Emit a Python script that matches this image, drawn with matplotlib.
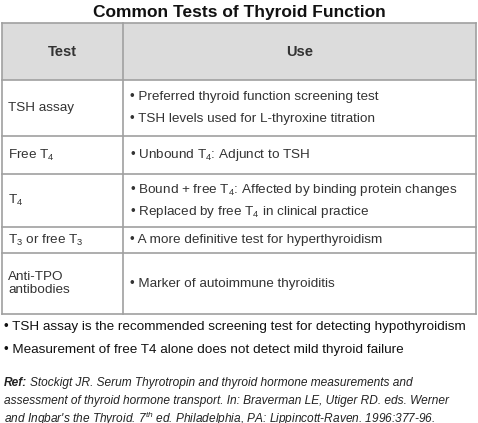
import matplotlib.pyplot as plt
from matplotlib.patches import Rectangle

plt.rcParams["font.family"] = ["Liberation Sans", "DejaVu Sans"]
plt.rcParams["mathtext.fontset"] = "custom"
plt.rcParams["mathtext.rm"] = "Liberation Sans"
plt.rcParams["mathtext.it"] = "Liberation Sans:italic"

S4 = r"$_\mathregular{4}$"
S3 = r"$_\mathregular{3}$"

title = "Common Tests of Thyroid Function"
headers = ["Test", "Use"]
tests = ["TSH assay", "Free T" + S4, "T" + S4, "T" + S3 + " or free T" + S3, "Anti-TPO\nantibodies"]
uses = [
    ["Preferred thyroid function screening test", "TSH levels used for L-thyroxine titration"],
    ["Unbound T" + S4 + ": Adjunct to TSH"],
    ["Bound + free T" + S4 + ": Affected by binding protein changes",
     "Replaced by free T" + S4 + " in clinical practice"],
    ["A more definitive test for hyperthyroidism"],
    ["Marker of autoimmune thyroiditis"],
]
notes = [
    "TSH assay is the recommended screening test for detecting hypothyroidism",
    "Measurement of free T4 alone does not detect mild thyroid failure",
]
ref_lines = [
    "Stockigt JR. Serum Thyrotropin and thyroid hormone measurements and",
    "assessment of thyroid hormone transport. In: Braverman LE, Utiger RD. eds. Werner",
    r"and Ingbar's the Thyroid. 7$^\mathregular{th}$ ed. Philadelphia, PA: Lippincott-Raven. 1996:377-96.",
]

# layout in pixels
row_edges = [23, 80, 136, 174, 227, 253, 314]
x0, xs, x1 = 2, 123, 476
txt = "#333333"
line = "#a0a0a0"
fs = 9.7

fig = plt.figure(figsize=(4.78, 4.23), dpi=100)
ax = fig.add_axes([0, 0, 1, 1])
ax.set_xlim(0, 478)
ax.set_ylim(423, 0)
ax.axis("off")

ax.text(239, 12, title, ha="center", va="center", fontsize=12.5, fontweight="bold", color="#111111")

ax.add_patch(Rectangle((x0, row_edges[0]), x1 - x0, row_edges[1] - row_edges[0],
                       facecolor="#dcdcdc", edgecolor="none"))
for y in row_edges:
    ax.plot([x0, x1], [y, y], color=line, lw=1.2)
for x in [x0, xs, x1]:
    ax.plot([x, x], [row_edges[0], row_edges[-1]], color=line, lw=1.2)

ymid = (row_edges[0] + row_edges[1]) / 2
ax.text((x0 + xs) / 2, ymid, headers[0], ha="center", va="center", fontsize=10.5, fontweight="bold", color=txt)
ax.text((xs + x1) / 2, ymid, headers[1], ha="center", va="center", fontsize=10.5, fontweight="bold", color=txt)

for i, (t, u) in enumerate(zip(tests, uses)):
    top, bot = row_edges[i + 1], row_edges[i + 2]
    mid = (top + bot) / 2
    ax.text(8, mid, t, ha="left", va="center", fontsize=fs, color=txt, linespacing=1.1)
    n = len(u)
    for j, s in enumerate(u):
        y = mid + (j - (n - 1) / 2) * 22
        ax.text(130, y, "\u2022 " + s, ha="left", va="center", fontsize=fs, color=txt)

for j, s in enumerate(notes):
    ax.text(4, 327 + j * 23, "\u2022 " + s, ha="left", va="center", fontsize=fs, color="#111111")

rfs = 8.6
ax.text(4, 383, "Ref:", ha="left", va="center", fontsize=rfs, fontweight="bold",
        style="italic", color="#222222")
ax.text(30, 383, ref_lines[0], ha="left", va="center", fontsize=rfs, style="italic", color="#222222")
ax.text(4, 401, ref_lines[1], ha="left", va="center", fontsize=rfs, style="italic", color="#222222")
ax.text(4, 419, ref_lines[2], ha="left", va="center", fontsize=rfs, style="italic", color="#222222")

fig.savefig("out.png", dpi=100)
